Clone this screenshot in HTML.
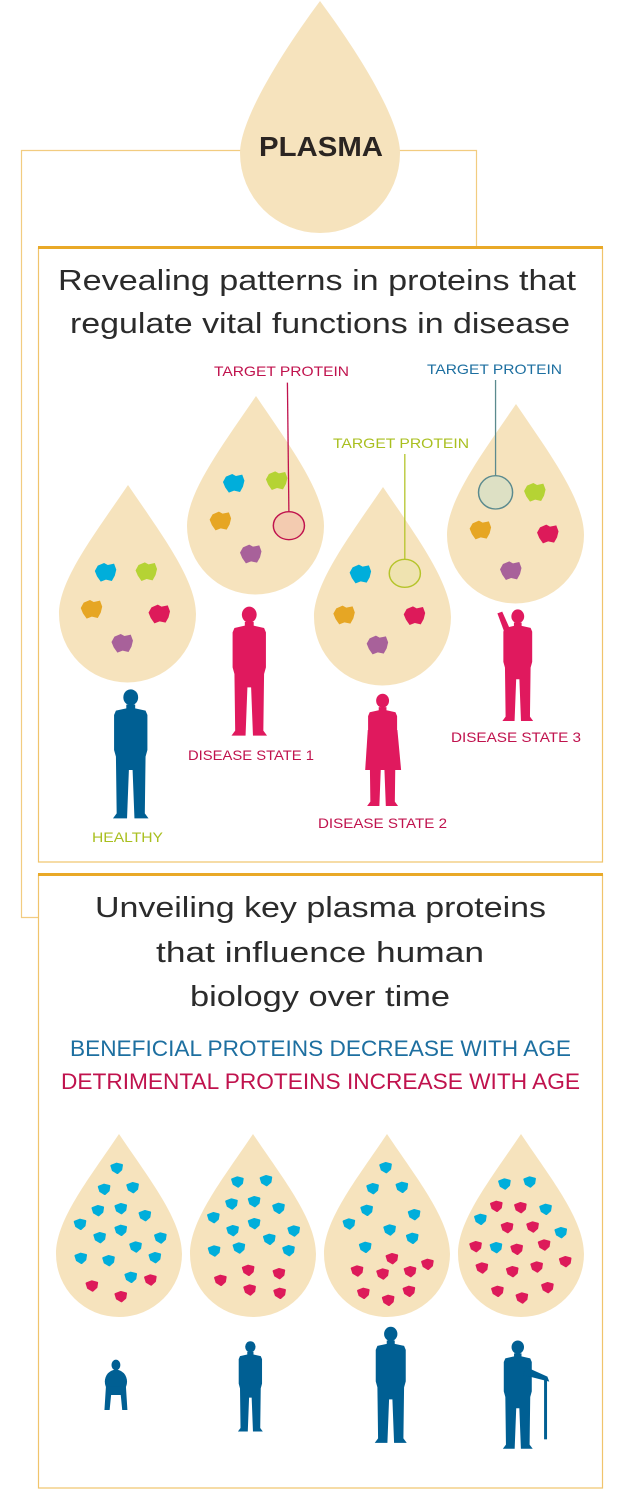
<!DOCTYPE html>
<html><head><meta charset="utf-8"><style>html,body{margin:0;padding:0;background:#fff}svg{display:block}</style></head>
<body>
<svg width="641" height="1489" viewBox="0 0 641 1489" xmlns="http://www.w3.org/2000/svg" font-family="'Liberation Sans', sans-serif">
<defs>
<path id="blob" d="M-22,-20 L-5,-28 L5,-22 L22,-26 L28,-8 L24,10 L16,26 L0,22 L-14,28 L-24,12 L-30,-4 Z" stroke-linejoin="round"/>
<path id="dot" d="M-14,-8 L0,-14 L14,-10 L12,4 L2,14 L-10,6 Z" stroke-width="6" stroke-linejoin="round"/>
<g id="man">
<ellipse cx="0" cy="22" rx="20" ry="24"/>
<path d="M-12,44 L12,44 L12,55 L40,62 L45,75 L45,180 L40,200 L38,370 L48,385 L10,385 L5,240 L-5,240 L-10,385 L-48,385 L-38,370 L-40,200 L-45,180 L-45,75 L-40,62 L-12,55 Z"/>
</g>
</defs>
<!-- connectors -->
<g fill="none" stroke="#f2cc80" stroke-width="1.2">
<polyline points="320,150.5 21.5,150.5 21.5,917.5 38,917.5"/>
<polyline points="320,150.5 476.5,150.5 476.5,247"/>
</g>
<!-- plasma drop -->
<path fill="#f6e3bd" d="M320,1 C360,55 400,120 400,153 A80,80 0 0 1 240,153 C240,120 280,55 320,1 Z"/>
<text x="259" y="156" font-size="28" font-weight="bold" fill="#2b2522" textLength="124" lengthAdjust="spacingAndGlyphs">PLASMA</text>
<!-- box 1 -->
<rect x="38.5" y="248" width="564" height="614" fill="none" stroke="#f0c46c" stroke-width="1.2"/>
<rect x="38" y="246" width="565" height="3" fill="#e9a928"/>
<text x="58" y="290" font-size="29" fill="#2b2b2b" textLength="518" lengthAdjust="spacingAndGlyphs">Revealing patterns in proteins that</text>
<text x="70" y="333" font-size="29" fill="#2b2b2b" textLength="500" lengthAdjust="spacingAndGlyphs">regulate vital functions in disease</text>
<!-- disease drops -->
<g fill="#f6e3bd">
<path d="M128,485 C162,535 196,580 196,614 A68.5,68.5 0 0 1 59,614 C59,580 94,535 128,485 Z"/>
<path d="M256,396 C290,446 324,492 324,526 A68.5,68.5 0 0 1 187,526 C187,492 222,446 256,396 Z"/>
<path d="M383,487 C417,537 451,583 451,617 A68.5,68.5 0 0 1 314,617 C314,583 349,537 383,487 Z"/>
<path d="M516,404 C550,454 584,500 584,535 A68.5,68.5 0 0 1 447,535 C447,500 482,454 516,404 Z"/>
</g>
<g transform="translate(40,360) scale(0.37037,0.33333)">
<!-- healthy -->
<use href="#blob" x="178" y="637" fill="#00aedb"/>
<use href="#blob" x="288" y="635" fill="#b5d334"/>
<use href="#blob" x="140" y="748" fill="#e6a624"/>
<use href="#blob" x="323" y="762" fill="#dd1a5a"/>
<use href="#blob" x="223" y="850" fill="#a8619a"/>
<!-- d1 -->
<use href="#blob" x="524" y="370" fill="#00aedb"/>
<use href="#blob" x="640" y="362" fill="#b5d334"/>
<use href="#blob" x="488" y="483" fill="#e6a624"/>
<use href="#blob" x="570" y="582" fill="#a8619a"/>
<line x1="668" y1="68" x2="672" y2="455" stroke="#c0124d" stroke-width="3.5"/>
<ellipse cx="672" cy="497" rx="42" ry="42" fill="#f3cbb0" stroke="#c0124d" stroke-width="4"/>
<!-- d2 -->
<use href="#blob" x="866" y="642" fill="#00aedb"/>
<use href="#blob" x="822" y="765" fill="#e6a624"/>
<use href="#blob" x="1012" y="767" fill="#dd1a5a"/>
<use href="#blob" x="912" y="855" fill="#a8619a"/>
<line x1="985" y1="282" x2="985" y2="598" stroke="#b5c42a" stroke-width="3.5"/>
<ellipse cx="985" cy="640" rx="42" ry="42" fill="#efe3b0" stroke="#b5c42a" stroke-width="4"/>
<!-- d3 -->
<use href="#blob" x="1337" y="397" fill="#b5d334"/>
<use href="#blob" x="1190" y="510" fill="#e6a624"/>
<use href="#blob" x="1372" y="522" fill="#dd1a5a"/>
<use href="#blob" x="1272" y="632" fill="#a8619a"/>
<line x1="1230" y1="60" x2="1230" y2="350" stroke="#5b8a8e" stroke-width="3.5"/>
<ellipse cx="1230" cy="397" rx="46" ry="50" fill="#dde0c4" stroke="#5b8a8e" stroke-width="4"/>
<!-- figures -->
<use href="#man" transform="translate(245,990)" fill="#005f93"/>
<use href="#man" transform="translate(565,742)" fill="#e0195e"/>
<g fill="#e0195e">
<use href="#man" transform="translate(925,1003) scale(0.87)"/>
<path d="M885,1110 L965,1110 L975,1230 L878,1230 Z"/>
<use href="#man" transform="translate(1290,750) scale(0.865)"/>
<path d="M1255,820 L1235,760 L1248,755 L1270,810 Z"/>
</g>
</g>
<g font-size="14" >
<text x="214" y="376" fill="#c0124d" textLength="135" lengthAdjust="spacingAndGlyphs">TARGET PROTEIN</text>
<text x="333" y="448" fill="#a9bf1f" textLength="136" lengthAdjust="spacingAndGlyphs">TARGET PROTEIN</text>
<text x="427" y="374" fill="#1d6fa0" textLength="135" lengthAdjust="spacingAndGlyphs">TARGET PROTEIN</text>
<text x="188" y="760" fill="#c0124d" textLength="126" lengthAdjust="spacingAndGlyphs">DISEASE STATE 1</text>
<text x="318" y="828" fill="#c0124d" textLength="129" lengthAdjust="spacingAndGlyphs">DISEASE STATE 2</text>
<text x="451" y="742" fill="#c0124d" textLength="130" lengthAdjust="spacingAndGlyphs">DISEASE STATE 3</text>
<text x="92" y="842" fill="#a9bf1f" textLength="71" lengthAdjust="spacingAndGlyphs">HEALTHY</text>
</g>
<!-- box 2 -->
<rect x="38.5" y="875" width="564" height="613" fill="none" stroke="#f0c46c" stroke-width="1.2"/>
<rect x="38" y="873" width="565" height="3" fill="#e9a928"/>
<text x="95" y="917" font-size="29" fill="#2b2b2b" textLength="451" lengthAdjust="spacingAndGlyphs">Unveiling key plasma proteins</text>
<text x="156" y="962" font-size="29" fill="#2b2b2b" textLength="328" lengthAdjust="spacingAndGlyphs">that influence human</text>
<text x="190" y="1006" font-size="29" fill="#2b2b2b" textLength="260" lengthAdjust="spacingAndGlyphs">biology over time</text>
<text x="70" y="1056" font-size="22" fill="#1d6fa0" textLength="501" lengthAdjust="spacingAndGlyphs">BENEFICIAL PROTEINS DECREASE WITH AGE</text>
<text x="61" y="1089" font-size="22" fill="#c0124d" textLength="519" lengthAdjust="spacingAndGlyphs">DETRIMENTAL PROTEINS INCREASE WITH AGE</text>
<!-- age drops -->
<g fill="#f6e3bd">
<path d="M119,1134 C150,1180 182,1220 182,1254 A63,63 0 0 1 56,1254 C56,1220 88,1180 119,1134 Z"/>
<path d="M253,1134 C284,1180 316,1220 316,1254 A63,63 0 0 1 190,1254 C190,1220 222,1180 253,1134 Z"/>
<path d="M387,1134 C418,1180 450,1220 450,1254 A63,63 0 0 1 324,1254 C324,1220 356,1180 387,1134 Z"/>
<path d="M521,1134 C552,1180 584,1220 584,1254 A63,63 0 0 1 458,1254 C458,1220 490,1180 521,1134 Z"/>
</g>
<g transform="translate(40,1120) scale(0.37037,0.33333)">
<g fill="#00aedb" stroke="#00aedb">
<use href="#dot" x="207" y="145"/><use href="#dot" x="173" y="208"/><use href="#dot" x="250" y="203"/><use href="#dot" x="156" y="272"/><use href="#dot" x="218" y="266"/><use href="#dot" x="283" y="287"/><use href="#dot" x="108" y="313"/><use href="#dot" x="161" y="353"/><use href="#dot" x="218" y="331"/><use href="#dot" x="325" y="354"/><use href="#dot" x="258" y="381"/><use href="#dot" x="110" y="415"/><use href="#dot" x="185" y="422"/><use href="#dot" x="310" y="413"/><use href="#dot" x="245" y="472"/>
<use href="#dot" x="533" y="186"/><use href="#dot" x="610" y="182"/><use href="#dot" x="517" y="252"/><use href="#dot" x="578" y="245"/><use href="#dot" x="644" y="265"/><use href="#dot" x="468" y="293"/><use href="#dot" x="520" y="332"/><use href="#dot" x="578" y="311"/><use href="#dot" x="685" y="333"/><use href="#dot" x="619" y="358"/><use href="#dot" x="470" y="393"/><use href="#dot" x="537" y="384"/><use href="#dot" x="671" y="392"/>
<use href="#dot" x="933" y="143"/><use href="#dot" x="898" y="206"/><use href="#dot" x="977" y="202"/><use href="#dot" x="882" y="271"/><use href="#dot" x="1010" y="284"/><use href="#dot" x="834" y="312"/><use href="#dot" x="944" y="330"/><use href="#dot" x="1005" y="355"/><use href="#dot" x="878" y="382"/>
<use href="#dot" x="1254" y="192"/><use href="#dot" x="1322" y="186"/><use href="#dot" x="1365" y="268"/><use href="#dot" x="1189" y="298"/><use href="#dot" x="1406" y="338"/><use href="#dot" x="1231" y="383"/>
</g>
<g fill="#dd1a5a" stroke="#dd1a5a">
<use href="#dot" x="140" y="498"/><use href="#dot" x="298" y="480"/><use href="#dot" x="218" y="530"/>
<use href="#dot" x="562" y="451"/><use href="#dot" x="645" y="461"/><use href="#dot" x="487" y="481"/><use href="#dot" x="566" y="510"/><use href="#dot" x="647" y="520"/>
<use href="#dot" x="950" y="416"/><use href="#dot" x="1046" y="433"/><use href="#dot" x="856" y="453"/><use href="#dot" x="925" y="462"/><use href="#dot" x="999" y="455"/><use href="#dot" x="873" y="520"/><use href="#dot" x="940" y="541"/><use href="#dot" x="996" y="514"/>
<use href="#dot" x="1232" y="259"/><use href="#dot" x="1297" y="263"/><use href="#dot" x="1261" y="323"/><use href="#dot" x="1330" y="321"/><use href="#dot" x="1176" y="380"/><use href="#dot" x="1287" y="388"/><use href="#dot" x="1361" y="375"/><use href="#dot" x="1193" y="444"/><use href="#dot" x="1275" y="455"/><use href="#dot" x="1341" y="441"/><use href="#dot" x="1418" y="425"/><use href="#dot" x="1235" y="514"/><use href="#dot" x="1301" y="534"/><use href="#dot" x="1370" y="503"/>
</g>
<g fill="#005f93">
<ellipse cx="205" cy="735" rx="12" ry="16"/>
<ellipse cx="205" cy="785" rx="30" ry="36"/>
<path d="M178,800 L232,800 L236,870 L222,870 L218,825 L192,825 L188,870 L174,870 Z"/>
<use href="#man" transform="translate(568,665) scale(0.7)"/>
<use href="#man" transform="translate(947,622) scale(0.9)"/>
<use href="#man" transform="translate(1290,663) scale(0.84)"/>
<path d="M1310,740 L1370,770 L1375,785 L1305,765 Z"/>
<rect x="1361" y="780" width="8" height="178"/>
</g>
</g>
</svg>
</body></html>
